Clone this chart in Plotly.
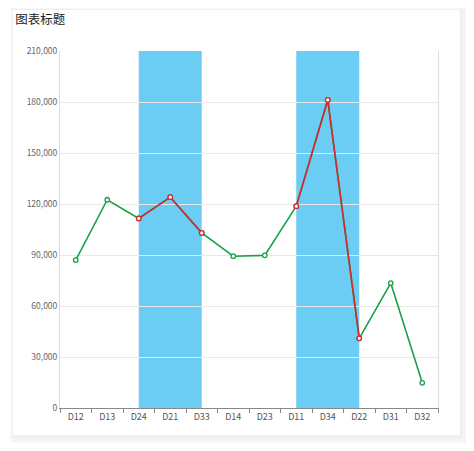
import plotly.graph_objects as go

# data
categories = ['D12', 'D13', 'D24', 'D21', 'D33', 'D14', 'D23', 'D11', 'D34', 'D22', 'D31', 'D32']
values = [87000, 122500, 111500, 124000, 103000, 89300, 89800, 118700, 181200, 41000, 73500, 14800]
bands = [('D24', 'D33'), ('D11', 'D22')]
y_ticks = [0, 30000, 60000, 90000, 120000, 150000, 180000, 210000]

GREEN = '#17a148'
RED = '#d7262e'
BLUE = '#6ccdf4'

# red part of the line: only points that sit inside a band
red_vals = [None] * len(values)
for start, end in bands:
    i0, i1 = categories.index(start), categories.index(end)
    for i in range(i0, i1 + 1):
        red_vals[i] = values[i]

fig = go.Figure()

fig.add_trace(go.Scatter(x=categories, y=values, mode='lines+markers',
                         line=dict(color=GREEN, width=1.6),
                         marker=dict(symbol='circle', size=4.5, color='white',
                                     line=dict(color=GREEN, width=1.3)),
                         showlegend=False, hoverinfo='x+y'))

# one red trace per band so segments are not joined across bands
for start, end in bands:
    i0, i1 = categories.index(start), categories.index(end)
    fig.add_trace(go.Scatter(x=categories[i0:i1 + 1], y=red_vals[i0:i1 + 1],
                             mode='lines+markers',
                             line=dict(color=RED, width=1.6),
                             marker=dict(symbol='circle', size=4.5, color='white',
                                         line=dict(color=RED, width=1.3)),
                             showlegend=False, hoverinfo='x+y'))

shapes = []
# soft card shadow + card
for k, op in enumerate([0.008, 0.012, 0.018, 0.025]):
    d = 0.008 * (4 - k)
    shapes.append(dict(type='rect', xref='paper', yref='paper', layer='below',
                       x0=-0.124 - d * 0.3, x1=1.058 + d, y0=-0.076 - d * 1.2, y1=1.115 + d * 0.3,
                       fillcolor='rgba(0,0,0,%s)' % op, line=dict(width=0)))
shapes.append(dict(type='rect', xref='paper', yref='paper', layer='below',
                   x0=-0.124, x1=1.058, y0=-0.076, y1=1.115,
                   fillcolor='white', line=dict(width=0)))
# highlighted bands
for start, end in bands:
    shapes.append(dict(type='rect', xref='x', yref='paper', layer='below',
                       x0=categories.index(start), x1=categories.index(end),
                       y0=0, y1=1, fillcolor=BLUE, line=dict(width=0)))

fig.update_layout(
    width=458, height=435,
    margin=dict(l=52, r=28, t=43, b=35),
    paper_bgcolor='white', plot_bgcolor='rgba(0,0,0,0)',
    font=dict(family='Noto Sans CJK SC, Noto Sans, sans-serif', size=9, color='#666'),
    title=dict(text='图表标题', x=0.016, xanchor='left', y=0.973, yanchor='middle',
               font=dict(size=12.5, color='#222')),
    shapes=shapes,
    xaxis=dict(type='category', categoryorder='array', categoryarray=categories,
               range=[-0.5, len(categories) - 0.5],
               showline=True, linecolor='#888', linewidth=1,
               ticks='outside', tickson='boundaries', ticklen=4, tickcolor='#888',
               showgrid=False, zeroline=False, tickfont=dict(size=9, color='#555')),
    yaxis=dict(range=[0, 210000], tickvals=y_ticks,
               ticktext=['{:,}'.format(v) for v in y_ticks],
               showline=True, linecolor='#ddd', mirror=True,
               gridcolor='#e8e8e8', gridwidth=1, zeroline=False,
               ticks='', tickfont=dict(size=8.5, color='#666')),
)

fig.write_html('out.html')
